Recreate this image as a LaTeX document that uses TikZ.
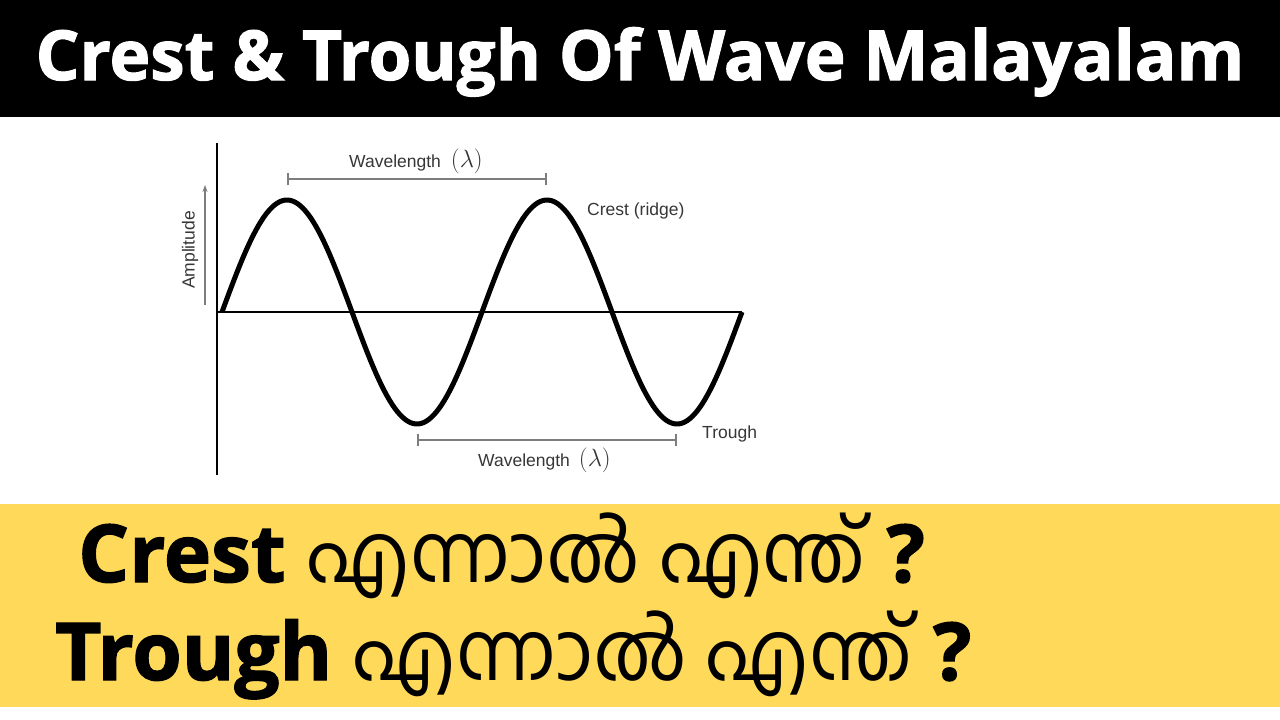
\documentclass[tikz,border=0pt]{standalone}
\usepackage{fontspec}
\usetikzlibrary{arrows.meta}
\setmainfont{Liberation Sans}
\newfontfamily\headfont{Open Sans}[BoldFeatures={FakeBold=1.6}]
\newfontfamily\malfont[Script=Malayalam,FakeStretch=0.94]{Hind Kochi}
\definecolor{bandyellow}{RGB}{255,218,90}
\definecolor{bargray}{RGB}{125,125,125}
\definecolor{labelgray}{RGB}{55,55,55}

\begin{document}
\begin{tikzpicture}[x=1pt,y=-1pt,
    lbl/.style={inner sep=0pt,text=labelgray,font=\fontsize{17.5}{20}\selectfont},
    wlbar/.style={bargray,line width=1.6pt,{Bar[width=12pt]}-{Bar[width=12pt]}},
    bigq/.style={inner sep=0pt,anchor=base west,font=\headfont\bfseries\fontsize{80}{90}\selectfont}]
    \useasboundingbox (0,0) rectangle (1280,720);
    \fill[white] (0,0) rectangle (1280,720);
    \fill[black] (0,0) rectangle (1280,117);
    \fill[bandyellow] (0,504) rectangle (1280,707);

    \node[inner sep=0pt,anchor=base,text=white,font=\headfont\bfseries\fontsize{69}{80}\selectfont] (title) at (640,80) {Crest \& Trough Of Wave Malayalam};

    \coordinate (origin) at (222,312);
    \coordinate (axtop) at (217,143);
    \coordinate (axbot) at (217,475);
    \coordinate (axend) at (742,312);
    \coordinate (peakA) at (287,179);
    \coordinate (peakB) at (547,179);
    \coordinate (troughA) at (417,440);
    \coordinate (troughB) at (677,440);

    \draw[line width=2pt] (axtop) -- (axbot);
    \draw[line width=1.5pt] (axbot |- origin) -- (axend);
    \draw[line width=5pt,line join=round] plot[domain=0:520,samples=200] ({222+\x},{312-112*sin(\x/260*360)});

    \draw[bargray,line width=1.2pt,-{Stealth[length=7pt,width=5pt]}] (205,305) coordinate (ampfoot) -- (205,185) coordinate (amphead);
    \node[lbl,rotate=90] (ampl) at (190,250) {Amplitude};

    \draw[wlbar] (peakA) -- (peakB);
    \draw[wlbar] (troughA) -- (troughB);
    \node[lbl,anchor=base west] (wltop) at (349,167) {Wavelength\hspace{10pt}\fontsize{25}{28}\selectfont$(\lambda)$};
    \node[lbl,anchor=base west] (wlbot) at (478,466) {Wavelength\hspace{9pt}\fontsize{25}{28}\selectfont$(\lambda)$};
    \node[lbl,anchor=base west] (crestlbl) at (587,215) {Crest (ridge)};
    \node[lbl,anchor=base west] (troughlbl) at (702,438) {Trough};

    \node[bigq] (crestq) at (78,582) {Crest {\malfont\mdseries\fontsize{82}{90}\selectfont എന്നാൽ എന്ത്} ?};
    \node[bigq] (troughq) at (55,680) {Trough {\malfont\mdseries\fontsize{82}{90}\selectfont എന്നാൽ എന്ത്} ?};
\end{tikzpicture}
\end{document}
